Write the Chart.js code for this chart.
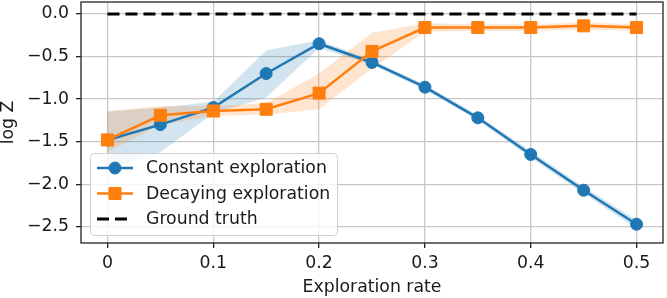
<!DOCTYPE html>
<html>
<head>
<meta charset="utf-8">
<script src="https://cdn.jsdelivr.net/npm/chart.js@4/dist/chart.umd.min.js"></script>
<style>
  html, body { margin: 0; padding: 0; background: #fff; }
</style>
</head>
<body>
<canvas id="chart" width="667" height="298"></canvas>
<script>
// exploration rates on the x axis
const rates = [0, 0.05, 0.1, 0.15, 0.2, 0.25, 0.3, 0.35, 0.4, 0.45, 0.5];

// constant exploration: mean and band
const constMean = [-1.48, -1.30, -1.10, -0.70, -0.35, -0.57, -0.86, -1.22, -1.65, -2.07, -2.47];
const constHigh = [-1.15, -1.10, -1.03, -0.43, -0.31, -0.54, -0.83, -1.19, -1.61, -2.03, -2.42];
const constLow = [-1.82, -1.62, -1.17, -0.98, -0.40, -0.60, -0.89, -1.25, -1.69, -2.11, -2.52];

// decaying exploration: mean and band
const decayMean = [-1.48, -1.19, -1.14, -1.12, -0.93, -0.44, -0.16, -0.16, -0.16, -0.14, -0.16];
const decayHigh = [-1.14, -1.08, -1.08, -1.05, -0.70, -0.22, -0.11, -0.12, -0.12, -0.10, -0.12];
const decayLow = [-1.62, -1.30, -1.20, -1.18, -1.12, -0.64, -0.21, -0.20, -0.20, -0.18, -0.20];

// ground truth
const truthX = [0, 0.5];
const truthY = [0, 0];

const xTicks = [0, 0.1, 0.2, 0.3, 0.4, 0.5];
const yTicks = [-2.5, -2.0, -1.5, -1.0, -0.5, 0.0];

const blue = '#1f77b4';
const orange = '#ff7f0e';

const pts = (xs, ys) => xs.map((x, i) => ({ x: x, y: ys[i] }));

const band = (ys, color, fill, order) => ({
    data: pts(rates, ys),
    borderWidth: 0,
    borderColor: 'rgba(0,0,0,0)',
    backgroundColor: color,
    pointRadius: 0,
    fill: fill,
    order: order,
    isBand: true,
});

Chart.defaults.font.family = "'DejaVu Sans', sans-serif";
Chart.defaults.font.size = 17;
Chart.defaults.color = '#1a1a1a';

// box around the plot, like the matplotlib spines
const frame = {
    id: 'frame',
    afterDatasetsDraw(chart) {
        const { ctx, chartArea: a } = chart;
        ctx.save();
        ctx.strokeStyle = '#222';
        ctx.lineWidth = 1.3;
        ctx.strokeRect(a.left, a.top, a.right - a.left, a.bottom - a.top);
        ctx.restore();
    },
};

// legend drawn inside the axes, lower left
const innerLegend = {
    id: 'innerLegend',
    afterDraw(chart) {
        const ctx = chart.ctx;
        const items = chart.data.datasets.filter((d) => !d.isBand).reverse();
        ctx.save();
        ctx.beginPath();
        ctx.roundRect(90.5, 153.5, 247, 82, 4);
        ctx.fillStyle = 'rgba(255,255,255,0.8)';
        ctx.fill();
        ctx.strokeStyle = '#d0d0d0';
        ctx.lineWidth = 1;
        ctx.stroke();
        items.forEach((d, i) => {
            const y = 168 + i * 25.5;
            ctx.beginPath();
            ctx.setLineDash(d.borderDash || []);
            ctx.strokeStyle = d.borderColor;
            ctx.lineWidth = d.borderWidth;
            ctx.moveTo(97, y);
            ctx.lineTo(133, y);
            ctx.stroke();
            ctx.setLineDash([]);
            if (d.pointRadius > 0) {
                ctx.fillStyle = d.pointBackgroundColor;
                ctx.strokeStyle = d.pointBorderColor;
                ctx.lineWidth = d.pointBorderWidth;
                Chart.helpers.drawPoint(ctx, {
                    pointStyle: d.pointStyle,
                    radius: d.pointRadius,
                    rotation: 0,
                    borderWidth: d.pointBorderWidth,
                }, 115, y);
            }
            ctx.fillStyle = '#1a1a1a';
            ctx.font = "17.3px 'DejaVu Sans', sans-serif";
            ctx.textBaseline = 'middle';
            ctx.textAlign = 'left';
            ctx.fillText(d.label, 146, y + 1);
        });
        ctx.restore();
    },
};

const gridStyle = {
    color: '#c8c8c8',
    lineWidth: 1.3,
    tickColor: '#222',
    tickLength: 5,
    tickWidth: 1.3,
};

new Chart(document.getElementById('chart'), {
    type: 'line',
    data: {
        datasets: [
            {
                label: 'Ground truth',
                data: pts(truthX, truthY),
                borderColor: '#000',
                borderWidth: 3,
                borderDash: [12, 6],
                pointRadius: 0,
                order: 0,
            },
            {
                label: 'Decaying exploration',
                data: pts(rates, decayMean),
                borderColor: orange,
                borderWidth: 2.5,
                pointStyle: 'rect',
                pointRadius: 8.5,
                pointBackgroundColor: orange,
                pointBorderColor: orange,
                pointBorderWidth: 1,
                order: 1,
            },
            {
                label: 'Constant exploration',
                data: pts(rates, constMean),
                borderColor: blue,
                borderWidth: 2.5,
                pointStyle: 'circle',
                pointRadius: 6,
                pointBackgroundColor: blue,
                pointBorderColor: blue,
                pointBorderWidth: 1,
                order: 2,
            },
            band(decayHigh, 'rgba(255,127,14,0.2)', '+1', 3),
            band(decayLow, 'rgba(0,0,0,0)', false, 4),
            band(constHigh, 'rgba(31,119,180,0.2)', '+1', 5),
            band(constLow, 'rgba(0,0,0,0)', false, 6),
        ],
    },
    options: {
        responsive: false,
        animation: false,
        layout: {
            autoPadding: false,
            padding: { top: 2, right: 4, left: 0, bottom: 0 },
        },
        scales: {
            x: {
                type: 'linear',
                min: -0.025,
                max: 0.525,
                afterBuildTicks: (scale) => {
                    scale.ticks = xTicks.map((v) => ({ value: v }));
                },
                afterFit: (scale) => {
                    scale.height = 55;
                    scale.paddingLeft = 0;
                    scale.paddingRight = 0;
                },
                border: { display: false },
                grid: gridStyle,
                ticks: {
                    padding: 5,
                    maxRotation: 0,
                    font: { size: 17.3 },
                    callback: (v) => (v === 0 ? '0' : v.toFixed(1)),
                },
                title: {
                    display: true,
                    text: 'Exploration rate',
                    font: { size: 17.3 },
                    padding: { top: 0, bottom: 0 },
                },
            },
            y: {
                min: -2.69,
                max: 0.14,
                afterBuildTicks: (scale) => {
                    scale.ticks = yTicks.map((v) => ({ value: v }));
                },
                afterFit: (scale) => {
                    scale.width = 81;
                    scale.paddingTop = 0;
                    scale.paddingBottom = 0;
                },
                border: { display: false },
                grid: gridStyle,
                ticks: {
                    padding: 7,
                    font: { size: 17.3 },
                    callback: (v) => (v < 0 ? '\u2212' + Math.abs(v).toFixed(1) : v.toFixed(1)),
                },
                title: {
                    display: true,
                    text: 'log Z',
                    font: { size: 17.3, lineHeight: 1 },
                    padding: { top: 0, bottom: 0 },
                },
            },
        },
        plugins: {
            legend: { display: false },
            tooltip: { enabled: false },
        },
    },
    plugins: [frame, innerLegend],
});
</script>
</body>
</html>
